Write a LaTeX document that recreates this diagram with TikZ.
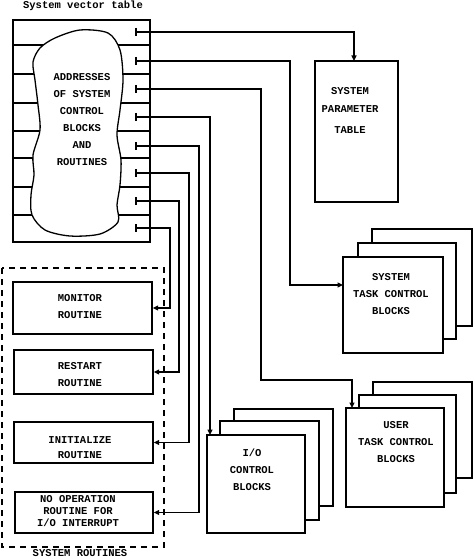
\documentclass[tikz,border=0pt]{standalone}
\usepackage{fontspec}
\setmonofont{Liberation Mono}
\usetikzlibrary{arrows.meta}
\begin{document}
\begin{tikzpicture}[x=1pt,y=-1pt,
  line/.style={line width=1.3pt},
  conn/.style={line width=1.3pt,-{Triangle[length=5.5pt,width=5pt]}},
  box/.style={draw,line width=1.4pt,fill=white,inner sep=0pt,rectangle},
  txt/.style={font=\ttfamily\bfseries\fontsize{10.5}{17}\selectfont,align=center,inner sep=0pt},
  dashbox/.style={draw,line width=1.5pt,dash pattern=on 6pt off 5pt},
]
\useasboundingbox (0,0) rectangle (474,559);

% title
\node[txt] (title) at (83,6) {System vector table};

% system vector table
\draw[line] (13,20) rectangle (150,242);
\foreach \y in {45,74,103,131,158,187,215}{
  \draw[line] (13,\y) -- (150,\y);
}
\draw[line,fill=white] plot[smooth cycle] coordinates {
 (55,38) (80,30) (108,33) (120,50) (123,80) (120,110) (117,135) (121,160)
 (120,185) (117,205) (118,222) (100,234) (70,236) (45,230) (32,215) (31,195)
 (34,175) (33,155) (40,130) (38,105) (35,80) (33,62) (40,48)};
\node[txt] (addr) at (82,120) {ADDRESSES\\OF SYSTEM\\CONTROL\\BLOCKS\\AND\\ROUTINES};

\foreach \i/\y in {1/32,2/61,3/89,4/117,5/146,6/173,7/201,8/228}{
  \coordinate (t\i) at (136,\y);
  \draw[line] (136,\y-4) -- (136,\y+4);
}

% system parameter table
\node[box,minimum width=83pt,minimum height=141pt] (spt) at (356.5,131.5) {};
\node[txt,font=\ttfamily\bfseries\fontsize{10.5}{18}\selectfont] (spttxt) at (350,110) {SYSTEM\\PARAMETER\\[3pt]TABLE};

% system task control blocks
\draw[box] (372,229) rectangle (472,326);
\draw[box] (358,243) rectangle (456,339);
\node[box,minimum width=100pt,minimum height=96pt] (stc) at (393,305) {};
\node[txt] (stctxt) at (391,294) {SYSTEM\\TASK CONTROL\\BLOCKS};
\coordinate (stcin) at (343,285);

% user task control blocks
\draw[box] (373,382) rectangle (472,478);
\draw[box] (359,395) rectangle (456,493);
\node[box,minimum width=98pt,minimum height=99pt] (utc) at (395,457.5) {};
\node[txt] (utctxt) at (396,442) {USER\\TASK CONTROL\\BLOCKS};
\coordinate (utcin) at (352,408);

% I/O control blocks
\draw[box] (234,409) rectangle (333,506);
\draw[box] (220,421) rectangle (319,520);
\node[box,minimum width=98pt,minimum height=98pt] (io) at (256,484) {};
\node[txt] (iotxt) at (252,470) {I/O\\CONTROL\\BLOCKS};
\coordinate (ioin) at (210,435);

% system routines
\draw[dashbox] (2,268) rectangle (164,547);
\node[txt] (srtitle) at (80,553) {SYSTEM ROUTINES};

\node[box,minimum width=139pt,minimum height=52pt] (mon) at (82.5,308) {};
\node[txt] at (80,306.5) {MONITOR\\ROUTINE};
\node[box,minimum width=139pt,minimum height=44pt] (rst) at (83.5,372) {};
\node[txt] at (80,374.5) {RESTART\\ROUTINE};
\node[box,minimum width=139pt,minimum height=41pt] (ini) at (83.5,442.5) {};
\node[txt,font=\ttfamily\bfseries\fontsize{10.5}{15}\selectfont] at (80,447.5) {INITIALIZE\\ROUTINE};
\node[box,minimum width=138pt,minimum height=41pt] (nop) at (84,512.5) {};
\node[txt,font=\ttfamily\bfseries\fontsize{10.5}{12}\selectfont] at (78,511) {NO OPERATION\\ROUTINE FOR\\I/O INTERRUPT};

% connectors
\draw[conn] (t1) -| (354,61);
\draw[conn] (t2) -- (290,61) |- (stcin);
\draw[conn] (t3) -- (261,89) -- (261,380) -| (utcin);
\draw[conn] (t4) -| (ioin);
\draw[conn] (t5) -- (199,146) |- (nop.east);
\draw[conn] (t6) -- (189,173) |- (ini.east);
\draw[conn] (t7) -- (179,201) |- (rst.east);
\draw[conn] (t8) -- (170,228) |- (mon.east);
\end{tikzpicture}
\end{document}
